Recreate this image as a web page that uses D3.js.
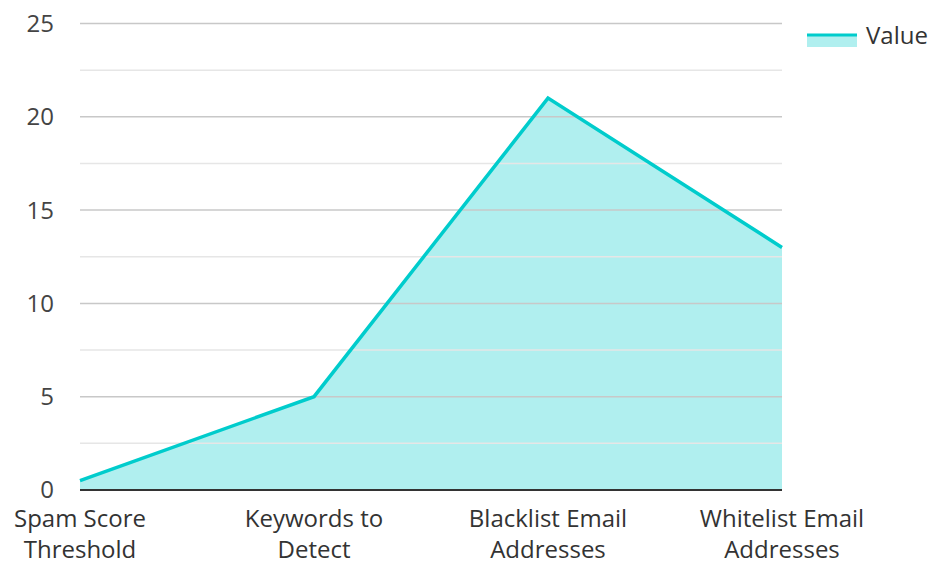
<!DOCTYPE html>
<html><head><meta charset="utf-8">
<script src="https://cdn.jsdelivr.net/npm/d3@7"></script>
<style>body{margin:0;background:#fff;font-family:"Open Sans",sans-serif;}</style>
</head><body>
<svg id="c" width="931" height="562"></svg>
<script>
const categories = ["Spam Score Threshold", "Keywords to Detect", "Blacklist Email Addresses", "Whitelist Email Addresses"];
const categoryLines = [["Spam Score","Threshold"],["Keywords to","Detect"],["Blacklist Email","Addresses"],["Whitelist Email","Addresses"]];
const values = [0.5, 5, 21, 13];
const majorTicks = [0, 5, 10, 15, 20, 25];
const minorTicks = [2.5, 7.5, 12.5, 17.5, 22.5];
const seriesName = "Value";

(function(){
const svg = d3.select("#c");
const mL = 80, mR = 782, mT = 23.5, mB = 490;
const x = d3.scalePoint().domain(categories).range([mL, mR]);
const y = d3.scaleLinear().domain([0, 25]).range([mB, mT]);

const area = d3.area().x((d,i)=>x(categories[i])).y0(y(0)).y1(d=>y(d));
const line = d3.line().x((d,i)=>x(categories[i])).y(d=>y(d));

svg.append("path").datum(values).attr("d", area).attr("fill", "rgba(0,204,204,0.31)");

svg.selectAll(".minor").data(minorTicks).enter().append("line")
  .attr("x1", mL).attr("x2", mR).attr("y1", d=>y(d)).attr("y2", d=>y(d))
  .attr("stroke", "#e6e6e6").attr("stroke-width", 1.5);
svg.selectAll(".major").data(majorTicks.filter(d=>d>0)).enter().append("line")
  .attr("x1", mL).attr("x2", mR).attr("y1", d=>y(d)).attr("y2", d=>y(d))
  .attr("stroke", "#c8c8c8").attr("stroke-width", 1.5);

svg.append("path").datum(values).attr("d", line).attr("fill", "none")
  .attr("stroke", "#00cccc").attr("stroke-width", 3.5).attr("stroke-linejoin","miter");

svg.append("line").attr("x1", mL).attr("x2", mR).attr("y1", y(0)).attr("y2", y(0))
  .attr("stroke", "#333").attr("stroke-width", 2);

svg.selectAll(".ylab").data(majorTicks).enter().append("text")
  .attr("x", 54).attr("y", d=>y(d)).attr("dy", "0.35em").attr("text-anchor", "end")
  .attr("font-size", 24).attr("fill", "#444").text(d=>d);

const xl = svg.selectAll(".xlab").data(categories).enter().append("text")
  .attr("text-anchor", "middle").attr("font-size", 24).attr("fill", "#333");
xl.each(function(d,i){
  const t = d3.select(this);
  categoryLines[i].forEach((s,j)=>{
    t.append("tspan").attr("x", x(d)).attr("y", 527 + j*31).text(s);
  });
});

svg.append("rect").attr("x", 807).attr("y", 35).attr("width", 50).attr("height", 12).attr("fill", "rgba(0,204,204,0.31)");
svg.append("line").attr("x1", 807).attr("x2", 857).attr("y1", 35).attr("y2", 35).attr("stroke", "#00cccc").attr("stroke-width", 3);
svg.append("text").attr("x", 866).attr("y", 36).attr("dy", "0.35em").attr("font-size", 24).attr("fill", "#333").text(seriesName);
})();
</script>
</body></html>
